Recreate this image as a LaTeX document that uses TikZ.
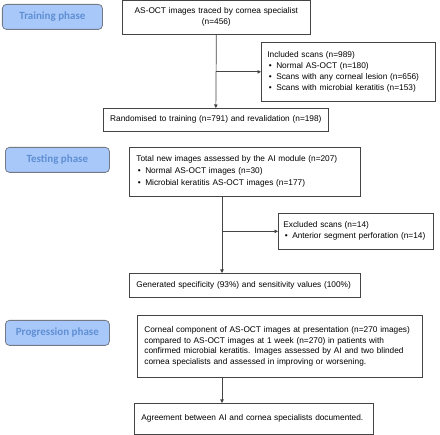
\documentclass[tikz,border=0pt]{standalone}
\usepackage{fontspec}
\setmainfont{Liberation Sans}
\newfontfamily\phasefont{Carlito}
\usetikzlibrary{positioning}
\usetikzlibrary{arrows.meta}

\definecolor{phasefill}{HTML}{A9C8FA}
\definecolor{phaseline}{HTML}{737A86}
\definecolor{phasetext}{HTML}{5F8FD3}
\definecolor{boxline}{HTML}{444444}

\newcommand\scanitem{\hspace{1.5pt}\textbullet\hspace{4.5pt}}

\tikzset{
    phase/.style={draw=phaseline, fill=phasefill, line width=0.8pt, rounded corners=4pt,
        anchor=north west, inner sep=0pt, minimum height=25pt, text=phasetext,
        font=\phasefont\bfseries\fontsize{11}{13}\selectfont},
    flowbox/.style={draw=boxline, line width=0.7pt, anchor=north west, align=left,
        inner xsep=7pt, inner ysep=0pt, font=\fontsize{8.3}{11}\selectfont},
    flowarrow/.style={draw=boxline, line width=0.7pt, -{Triangle[length=3.5pt,width=3.5pt]}}
}

\begin{document}
\begin{tikzpicture}[x=1pt, y=-1pt]
            \useasboundingbox (0,0) rectangle (440,435);

            % phase labels
            \foreach \name/\x/\y/\w/\lbl in {train/2/4/100/Training phase,
                test/5/147/104/Testing phase, prog/5/320/104/Progression phase}
                {\node[phase, minimum width=\w pt] (\name) at (\x,\y) {\lbl};}

            % training phase
            \node[flowbox, align=center, text width=174pt, minimum height=34pt] (trace) at (122,0)
                {AS-OCT images traced by cornea specialist\\(n=456)};
            \node[flowbox, inner xsep=6pt, text width=162pt, minimum height=59pt] (incl) at (261,42)
                {Included scans (n=989)\\
                 \scanitem Normal AS-OCT (n=180)\\
                 \scanitem Scans with any corneal lesion (n=656)\\
                 \scanitem Scans with microbial keratitis (n=153)};
            \node[flowbox, align=center, inner xsep=4pt, text width=217pt, minimum height=23pt] (random) at (103,108)
                {Randomised to training (n=791) and revalidation (n=198)};

            % testing phase
            \node[flowbox, text width=217pt, minimum height=49pt,
                font=\fontsize{8.3}{12}\selectfont] (total) at (129,147)
                {Total new images assessed by the AI module (n=207)\\
                 \scanitem Normal AS-OCT images (n=30)\\
                 \scanitem Microbial keratitis AS-OCT images (n=177)};
            \node[flowbox, inner xsep=5pt, text width=145pt, minimum height=36pt] (excl) at (278,213)
                {Excluded scans (n=14)\\
                 \scanitem Anterior segment perforation (n=14)};
            \node[flowbox, text width=217pt, minimum height=24pt] (gen) at (129,273)
                {Generated specificity (93\%) and sensitivity values (100\%)};

            % progression phase
            \node[flowbox, text width=271pt, minimum height=62pt,
                font=\fontsize{8.3}{10.7}\selectfont] (corn) at (137,315)
                {Corneal component of AS-OCT images at presentation (n=270 images)\\
                 compared to AS-OCT images at 1 week (n=270) in patients with\\
                 confirmed microbial keratitis. Images assessed by AI and two blinded\\
                 cornea specialists and assessed in improving or worsening.};
            \node[flowbox, text width=225pt, minimum height=31pt] (agree) at (134,403)
                {Agreement between AI and cornea specialists documented.};

            % connectors
            \coordinate (spine) at (222,0);
            \draw[flowarrow] (trace.south) -- (random.north);
            \draw[flowarrow] (trace.south |- incl.west) -- (incl.west);
            \draw[flowarrow] (total.south -| spine) -- (gen.north -| spine);
            \draw[flowarrow] (excl.west -| spine) -- (excl.west);
            \draw[flowarrow] (corn.south -| spine) -- (agree.north -| spine);
        \end{tikzpicture}
\end{document}
